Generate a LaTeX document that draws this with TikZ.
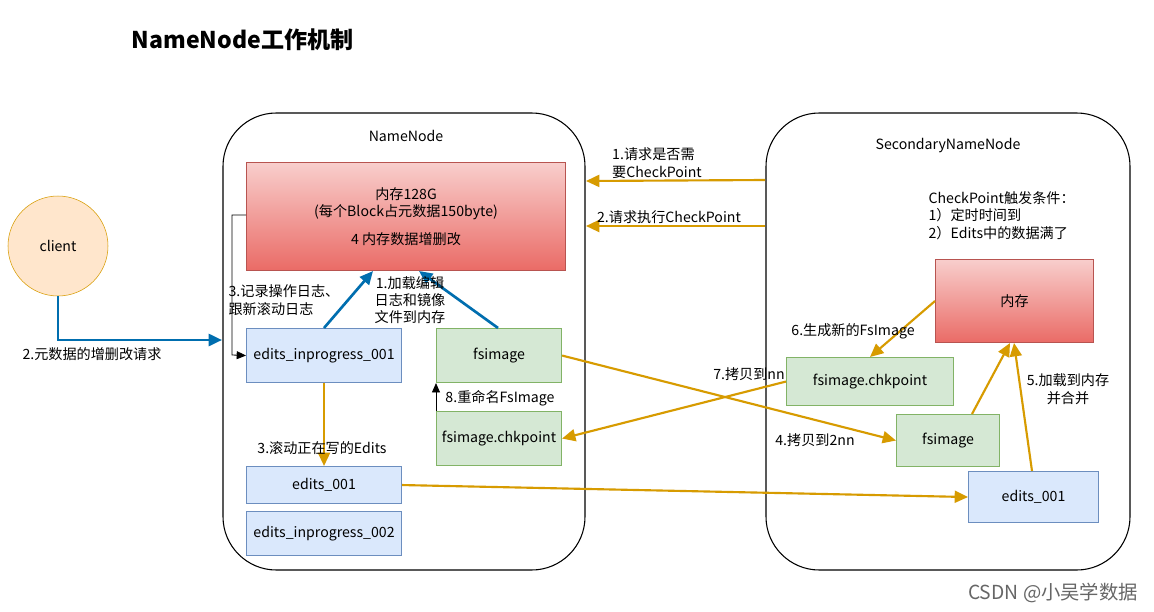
\documentclass[tikz,border=0pt]{standalone}
\usepackage{fontspec}
\setmainfont{Noto Sans CJK SC}
\usetikzlibrary{arrows.meta}
\definecolor{ob}{HTML}{D79B00}
\definecolor{bb}{HTML}{006EAF}
\begin{document}
\begin{tikzpicture}[x=0.75pt,y=-0.75pt,font=\fontsize{10.6}{13}\selectfont,
 box/.style={draw,line width=0.8pt,minimum width=0,anchor=north west,inner sep=0},
 blue/.style={fill={rgb,255:red,218;green,232;blue,252},draw={rgb,255:red,108;green,142;blue,191}},
 green/.style={fill={rgb,255:red,213;green,232;blue,212},draw={rgb,255:red,130;green,179;blue,102}},
 red/.style={top color={rgb,255:red,248;green,206;blue,204},bottom color={rgb,255:red,234;green,107;blue,102},draw={rgb,255:red,184;green,84;blue,80}},
 oa/.style={draw=ob,line width=1.6pt,-{Triangle[length=10pt,width=9pt]}},
 ba/.style={draw=bb,line width=2pt,-{Triangle[length=10pt,width=9pt]}},
 ka/.style={draw=black,line width=0.6pt,-{Triangle[length=7pt,width=6pt]}},
 lbl/.style={align=left,inner sep=1pt}]
\useasboundingbox (0,0) rectangle (1154,611);
\fill[white] (0,0) rectangle (1154,611);
\node[font=\fontsize{17.3}{20}\bfseries\selectfont,anchor=west] (title) at (127,40) {NameNode工作机制};
\draw[rounded corners=40pt,line width=0.8pt] (223,113) rectangle (585,570);
\draw[rounded corners=40pt,line width=0.8pt] (766,113) rectangle (1130,570);
\node (nnl) at (406,136) {NameNode};
\node (snl) at (948,146) {SecondaryNameNode};
\node[circle,draw=ob,fill={rgb,255:red,255;green,230;blue,204},minimum size=100*0.75pt,inner sep=0] (client) at (58,246) {client};
\node[box,red,minimum width=319*0.75pt,minimum height=108*0.75pt,align=center] (mem) at (246,162) {内存128G\\(每个Block占元数据150byte)\\[8pt]4 内存数据增删改};
\node[box,blue,minimum width=155*0.75pt,minimum height=54*0.75pt] (eip) at (246,328) {edits\_inprogress\_001};
\node[box,green,minimum width=125*0.75pt,minimum height=54*0.75pt] (fs) at (436,328) {fsimage};
\node[box,green,minimum width=125*0.75pt,minimum height=54*0.75pt] (ck) at (436,411) {fsimage.chkpoint};
\node[box,blue,minimum width=155*0.75pt,minimum height=37*0.75pt] (e1) at (246,466) {edits\_001};
\node[box,blue,minimum width=155*0.75pt,minimum height=44*0.75pt] (eip2) at (246,511) {edits\_inprogress\_002};
\node[box,red,minimum width=158*0.75pt,minimum height=83*0.75pt] (mem2) at (935,259) {内存};
\node[box,green,minimum width=167*0.75pt,minimum height=48*0.75pt] (ck2) at (786,357) {fsimage.chkpoint};
\node[box,green,minimum width=103*0.75pt,minimum height=52*0.75pt] (fs2) at (896,414) {fsimage};
\node[box,blue,minimum width=130*0.75pt,minimum height=51*0.75pt] (e2) at (968,471) {edits\_001};
\node[lbl,anchor=north west] (cond) at (927,190) {CheckPoint触发条件：\\1）定时时间到\\2）Edits中的数据满了};
\coordinate (c1) at (58,340);
\draw[ba] (client.south) -- (c1) -- (222,340);
\node[lbl] (l2) at (92,354) {2.元数据的增删改请求};
\draw[ka] (mem.west|-0,215) -- (232,215) -- (232,355) -- (eip.west);
\node[lbl,anchor=west] (l3) at (227,300) {3.记录操作日志、\\跟新滚动日志};
\draw[ba] (324,328) -- (373,271);
\draw[ba] (498,328) -- (419,271);
\node[lbl,align=center] (l1) at (410,300) {1.加载编辑\\日志和镜像\\文件到内存};
\draw[oa] (eip.south) -- (e1.north);
\node[lbl] (l3b) at (322,448) {3.滚动正在写的Edits};
\draw[ka] (ck.north west) -- (fs.south west);
\node[lbl] (l8) at (500,398) {8.重命名FsImage};
\draw[oa] (765,180) -- (586,181);
\node[lbl] (lq1) at (657,163) {1.请求是否需\\要CheckPoint};
\draw[oa] (765,226) -- (586,226);
\node[lbl] (lq2) at (669,217) {2.请求执行CheckPoint};
\draw[oa] (fs.east) -- (fs2.west);
\node[lbl] (l4) at (815,440) {4.拷贝到2nn};
\draw[oa] (ck2.west) -- (ck.east);
\node[lbl] (l7) at (749,374) {7.拷贝到nn};
\draw[oa] (e1.east) -- (e2.west);
\draw[oa] (mem2.west) -- (870,357);
\node[lbl] (l6) at (853,331) {6.生成新的FsImage};
\draw[oa] (972,414) -- (1010,343);
\draw[oa] (1032,471) -- (1014,343);
\node[lbl,align=center] (l5) at (1068,389) {5.加载到内存\\并合并};
\node[text=gray!80!black,font=\fontsize{14.5}{17}\selectfont] (wm) at (1053,593) {CSDN @小吴学数据};
\end{tikzpicture}
\end{document}
